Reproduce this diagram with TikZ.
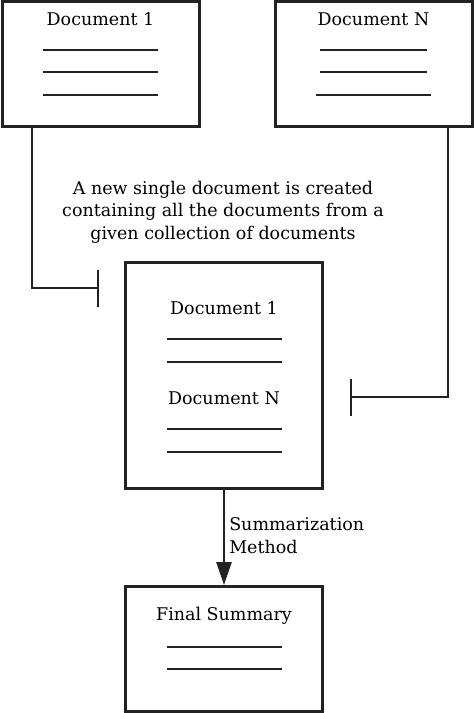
\documentclass[tikz,border=0pt]{standalone}
\usepackage{fontspec}
\setmainfont{DejaVu Serif}
\usetikzlibrary{arrows.meta,positioning}
\definecolor{ink}{HTML}{222222}
\tikzset{
  docbox/.style={draw=ink, line width=3pt, minimum width=197pt, inner sep=0pt},
  title/.style={text=black, font=\fontsize{17.5}{23}\selectfont, inner sep=0pt},
  rule/.style={draw=ink, line width=1.3pt},
  tee/.style={draw=ink, line width=2pt, -{Bar[width=37pt]}},
  flow/.style={draw=ink, line width=2.5pt, -{Triangle[length=23pt,width=15pt]}}
}

\begin{document}
\begin{tikzpicture}[x=1pt,y=1pt]
    \useasboundingbox (0,0) rectangle (474,-713);

    % Source documents
    \node[docbox, minimum height=124.5pt] (doc1) at (100.5,-63.75) {};
    \node[docbox, minimum height=124.5pt] (docN) at (373.5,-63.75) {};
    \node[title] (doc1title) at (100.5,-19) {Document 1};
    \node[title] (docNtitle) at (373.5,-19) {Document N};
    \foreach \y in {50,72,95}
        \draw[rule] (43,-\y) -- (158,-\y);
    \foreach \y in {50,72}
        \draw[rule] (320,-\y) -- (427,-\y);
    \draw[rule] (316,-95) -- (431,-95);

    % Explanation
    \node[title, align=center, font=\fontsize{17.5}{22.5}\selectfont] (note) at (223,-212)
        {A new single document is created\\containing all the documents from a\\given collection of documents};

    % Merged document
    \node[docbox, minimum height=226pt] (merged) at (224,-375) {};
    \node[title] (mergedtitle1) at (224,-308) {Document 1};
    \node[title] (mergedtitleN) at (224,-398) {Document N};
    \foreach \y in {339,362,429,452}
        \draw[rule] (167,-\y) -- (282,-\y);

    % Tee connectors into the merged document
    \coordinate (end1) at (99,-288);
    \coordinate (endN) at (350,-397);
    \draw[tee] ([xshift=31pt]doc1.south west) |- (end1);
    \draw[tee] ([xshift=-26pt]docN.south east) |- (endN);

    % Final summary
    \node[docbox, minimum height=125pt] (summary) at (224,-649) {};
    \node[title] (summarytitle) at (224,-616) {Final Summary};
    \foreach \y in {647,669}
        \draw[rule] (167,-\y) -- (282,-\y);

    \draw[flow] (merged) -- (summary)
        node[midway, right=4pt, yshift=2pt, title, align=left] (method) {Summarization\\Method};
\end{tikzpicture}
\end{document}
